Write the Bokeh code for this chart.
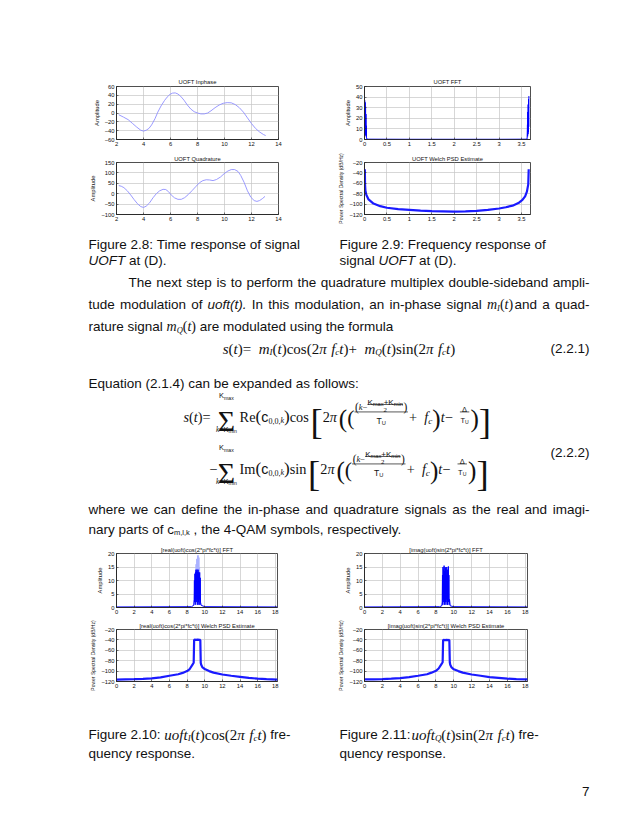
from bokeh.plotting import figure
from bokeh.layouts import column, row
from bokeh.models import Range1d, Label, Spacer, FixedTicker, ColumnDataSource
from bokeh.embed import file_html
from bokeh.resources import INLINE

SANS = "Liberation Sans"
SERIF = "Liberation Serif"
PLOT_FS = "5.8px"
FS = 13.5

# ------------------------------------------------------------------ data
time_ticks = [2, 4, 6, 8, 10, 12, 14]                      # x 10^-7 s
time_tick_labels = ["2", "4", "6", "8", "10", "12", "14"]
inphase_time = [2.17, 2.5, 2.86, 3.2, 3.5, 3.8, 4.0, 4.2, 4.4, 4.6, 4.85, 5.06, 5.3, 5.55,
                5.75, 5.95, 6.15, 6.35, 6.55, 6.75, 7.0, 7.25, 7.5, 7.75, 8.0, 8.25, 8.5,
                8.75, 9.0, 9.3, 9.6, 9.9, 10.2, 10.5, 10.8, 11.1, 11.4, 11.7, 12.0, 12.3,
                12.6, 12.9, 13.05]
inphase_amp = [-4, -9, -15, -24, -32, -39, -41, -39, -35, -27, -13, 2, 16, 28, 36, 42, 45,
               45.5, 43, 38, 29, 18, 9, 3, 0, -2, -2, 0, 5, 12, 18, 22, 23.5, 23, 19, 12, 2,
               -11, -24, -35, -43, -49, -51]
quad_time = [2.17, 2.35, 2.55, 2.8, 3.05, 3.3, 3.55, 3.8, 4.0, 4.2, 4.45, 4.7, 4.95, 5.2,
             5.45, 5.65, 5.85, 6.05, 6.3, 6.55, 6.8, 7.05, 7.3, 7.6, 7.9, 8.15, 8.4, 8.65,
             8.9, 9.15, 9.4, 9.7, 9.97, 10.25, 10.5, 10.75, 11.0, 11.2, 11.45, 11.7, 11.95,
             12.2, 12.4, 12.6, 12.8, 13.0]
quad_amp = [39, 36, 29, 14, -6, -28, -48, -62, -66, -60, -44, -20, 0, 14, 21, 20, 10, -6,
            -20, -27, -27, -19, -5, 15, 36, 53, 63, 67, 66, 63, 68, 80, 96, 109, 116, 116,
            107, 88, 55, 14, -17, -33, -37, -33, -24, -13]

uoft_freq_ticks = [0, 0.5, 1, 1.5, 2, 2.5, 3, 3.5]          # x 10^8 Hz
uoft_freq_labels = ["0", "0.5", "1", "1.5", "2", "2.5", "3", "3.5"]
uoft_fft_freq = [0.008, 0.012, 0.016, 0.020, 0.024, 0.028, 0.032, 0.036, 0.040, 0.044,
                 0.05, 0.08, 1.0, 2.0, 3.0, 3.6, 3.625, 3.632, 3.636, 3.64, 3.644, 3.648,
                 3.652, 3.656, 3.66, 3.664]
uoft_fft_amp = [37, 5, 35, 9, 31, 4, 24, 3, 13, 1.5, 0.6, 0.3, 0.2, 0.2, 0.2, 0.3, 0.6, 14,
                3, 26, 5, 33, 7, 38, 12, 41]
uoft_psd_freq = [0.008, 0.012, 0.02, 0.04, 0.09, 0.2, 0.35, 0.5, 0.75, 1.0, 1.25, 1.5, 1.75,
                 2.0, 2.25, 2.5, 2.75, 3.0, 3.15, 3.3, 3.43, 3.52, 3.58, 3.62, 3.65, 3.66]
uoft_psd_db = [-33, -62, -74, -82, -91, -99, -104, -107, -109.5, -111, -112.5, -113.5, -114,
               -114.5, -114, -113, -111, -108.5, -106, -103, -98, -92, -85, -76, -62, -33]

mod_freq_ticks = [0, 2, 4, 6, 8, 10, 12, 14, 16, 18]      # x 10^7 Hz
mod_freq_labels = ["0", "2", "4", "6", "8", "10", "12", "14", "16", "18"]
real_fft_freq = [0, 8.5, 8.75, 8.8, 8.83, 8.86, 8.89, 8.92, 8.95, 8.98, 9.01, 9.04, 9.07,
                 9.10, 9.13, 9.16, 9.19, 9.22, 9.25, 9.28, 9.31, 9.34, 9.37, 9.40, 9.43,
                 9.46, 9.49, 9.52, 9.6, 10, 18.25]
real_fft_amp = [0.2, 0.3, 0.8, 3, 10, 2, 12.5, 1, 13, 3, 14, 2, 13.5, 4, 14, 1, 13, 3, 14,
                2, 13, 1, 12.5, 3, 13, 1, 11, 2, 0.8, 0.3, 0.2]
real_fft_peak_freq = [8.98, 9.02, 9.06, 9.1, 9.14, 9.18, 9.22, 9.26, 9.3, 9.34, 9.38, 9.42]
real_fft_peak_amp = [2, 16, 3, 18, 4, 19.2, 5, 19.3, 4, 18.5, 3, 15]
imag_fft_freq = [0, 8.4, 8.65, 8.7, 8.73, 8.76, 8.79, 8.82, 8.85, 8.88, 8.91, 8.94, 8.97,
                 9.0, 9.03, 9.06, 9.09, 9.12, 9.15, 9.18, 9.21, 9.24, 9.27, 9.3, 9.33, 9.36,
                 9.39, 9.42, 9.45, 9.48, 9.52, 9.6, 10, 18.25]
imag_fft_amp = [0.2, 0.3, 0.6, 2, 12, 1, 15, 3, 14, 2, 15.5, 1, 13.5, 4, 15, 2, 14.5, 1, 12,
                3, 15, 2, 14, 1, 13, 4, 15.2, 2, 12, 1, 3, 0.6, 0.3, 0.2]
psd_freq = [0, 1, 2, 3, 4, 5, 6, 7, 7.5, 8, 8.3, 8.6, 8.75, 8.8, 8.85, 9.0, 9.2, 9.4, 9.5,
            9.55, 9.6, 9.75, 10, 10.5, 11, 12, 13, 14, 15, 16, 17, 18.25]
real_psd_db = [-116.5, -116, -115.6, -115, -114, -112, -109, -106, -103.5, -100, -96, -88,
               -84, -40, -39.5, -40, -39.5, -40, -40, -84, -88, -93, -96, -100, -103, -106.5,
               -109, -111, -113, -114.5, -115.5, -116.5]
imag_psd_db = [-116, -115.8, -115.3, -114.5, -113.5, -111.5, -109, -106, -103, -99.5, -95,
               -87, -83, -40.5, -40, -40.5, -40, -40.5, -40, -83, -88, -93, -96.5, -100,
               -103, -106.5, -109, -111.5, -113, -114.5, -115.5, -116]

# ------------------------------------------------------------------ plots
def subplot(width, height, bl, br, bt, bb, xr, yr, xticks, xlabels, yticks, title,
            ylabel, xlabel, xlabel_off, scale_exp, scale_off, title_standoff=1,
            ylabel_fs=PLOT_FS):
    p = figure(width=width, height=height, x_range=Range1d(*xr), y_range=Range1d(*yr),
               output_backend="svg", toolbar_location=None,
               min_border_left=bl, min_border_right=br, min_border_top=bt,
               min_border_bottom=bb)
    p.background_fill_color = "white"
    p.border_fill_color = "white"
    p.outline_line_color = "#222222"
    p.outline_line_width = 0.8
    p.title.text = title
    p.title.align = "center"
    p.title.text_font = SANS
    p.title.text_font_size = PLOT_FS
    p.title.text_font_style = "normal"
    p.title.text_color = "#111111"
    try:
        p.title.standoff = title_standoff
    except Exception:
        pass
    for ax, ticks in ((p.xaxis, xticks), (p.yaxis, yticks)):
        ax.ticker = FixedTicker(ticks=ticks)
        ax.major_label_text_font = SANS
        ax.major_label_text_font_size = PLOT_FS
        ax.major_label_text_color = "#111111"
        ax.major_label_standoff = 2
        ax.major_tick_in = 2
        ax.major_tick_out = 0
        ax.minor_tick_in = 0
        ax.minor_tick_out = 0
        ax.axis_line_color = "#222222"
        ax.axis_line_width = 0.8
        ax.major_tick_line_color = "#222222"
        ax.major_tick_line_width = 0.6
    p.xaxis.major_label_overrides = {t: s for t, s in zip(xticks, xlabels)}
    p.yaxis.axis_label = ylabel
    p.yaxis.axis_label_text_font = SANS
    p.yaxis.axis_label_text_font_size = ylabel_fs
    p.yaxis.axis_label_text_font_style = "normal"
    p.yaxis.axis_label_text_color = "#111111"
    p.yaxis.axis_label_standoff = 2
    p.xgrid.grid_line_color = "#c6c6c6"
    p.ygrid.grid_line_color = "#c6c6c6"
    p.xgrid.grid_line_width = 0.7
    p.ygrid.grid_line_width = 0.7
    xmid = (xr[0] + xr[1]) / 2.0
    p.add_layout(Label(x=xmid, y=yr[0], text=xlabel, text_align="center",
                       text_baseline="middle", y_offset=-xlabel_off, text_font=SANS,
                       text_font_size=PLOT_FS, text_color="#111111"))
    p.add_layout(Label(x=xr[1], y=yr[0], text="x 10", text_align="right",
                       text_baseline="middle", x_offset=-4.5, y_offset=-scale_off,
                       text_font=SANS, text_font_size=PLOT_FS, text_color="#111111"))
    p.add_layout(Label(x=xr[1], y=yr[0], text=scale_exp, text_align="right",
                       text_baseline="middle", x_offset=0, y_offset=-scale_off + 2.5,
                       text_font=SANS, text_font_size="4.2px", text_color="#111111"))
    return p

LIGHT = "#8f8fff"
BLUE = "#0000ff"
PSD_BLUE = "#1a1aff"
amp_ticks_a = [-60, -40, -20, 0, 20, 40, 60]
amp_ticks_b = [-100, -50, 0, 50, 100, 150]
amp_ticks_c = [0, 10, 20, 30, 40, 50]
amp_ticks_e = [0, 5, 10, 15, 20]
psd_ticks = [-120, -100, -80, -60, -40, -20]
PSD_LABEL = "Power Spectral Density (dB/Hz)"

fig_a = subplot(319, 82, 116, 41, 16, 13, (2, 14), (-60, 60), time_ticks, time_tick_labels,
                amp_ticks_a, "UOFT Inphase", "Amplitude", "Time (sec)", 9.5, "-7", 10,
                title_standoff=4)
fig_a.line(inphase_time, inphase_amp, line_color=LIGHT, line_width=0.9)

fig_b = subplot(319, 80, 116, 41, 9, 18, (2, 14), (-100, 150), time_ticks, time_tick_labels,
                amp_ticks_b, "UOFT Quadrature", "Amplitude", "Time (sec)", 10, "-7", 13,
                title_standoff=2)
fig_b.line(quad_time, quad_amp, line_color=LIGHT, line_width=0.9)

fig_c = subplot(317, 82, 45, 106, 16, 13, (0, 3.7), (0, 50), uoft_freq_ticks,
                uoft_freq_labels, amp_ticks_c, "UOFT FFT", "Amplitude", "Frequency (Hz)",
                9.5, "8", 10, title_standoff=4)
fig_c.line(uoft_fft_freq, uoft_fft_amp, line_color=BLUE, line_width=1.0)

fig_d = subplot(317, 80, 45, 106, 7, 18, (0, 3.7), (-120, -20), uoft_freq_ticks,
                uoft_freq_labels, psd_ticks, "UOFT Welch PSD Estimate", PSD_LABEL,
                "Frequency (Hz)", 10, "8", 13, title_standoff=1, ylabel_fs="5px")
fig_d.line(uoft_psd_freq, uoft_psd_db, line_color=PSD_BLUE, line_width=2.2)

fig_e = subplot(319, 76, 116, 42, 9, 13, (0, 18.25), (0, 20), mod_freq_ticks,
                mod_freq_labels, amp_ticks_e, "[real(uoft)cos(2*pi*fc*t)] FFT", "Amplitude",
                "Frequency (Hz)", 8.5, "7", 10, title_standoff=1)
fig_e.line(real_fft_peak_freq, real_fft_peak_amp, line_color="#aab2ff", line_width=1.0)
fig_e.line(real_fft_freq, real_fft_amp, line_color=BLUE, line_width=1.0)

fig_f = subplot(319, 80, 116, 42, 7, 19, (0, 18.25), (-120, -20), mod_freq_ticks,
                mod_freq_labels, psd_ticks, "[real(uoft)cos(2*pi*fc*t)] Welch PSD Estimate",
                PSD_LABEL, "Frequency (Hz)", 9.7, "7", 14, title_standoff=1,
                ylabel_fs="5px")
fig_f.line(psd_freq, real_psd_db, line_color=PSD_BLUE, line_width=2.2)

fig_g = subplot(317, 76, 45, 109, 9, 13, (0, 18.25), (0, 20), mod_freq_ticks,
                mod_freq_labels, amp_ticks_e, "[imag(uoft)sin(2*pi*fc*t)] FFT", "Amplitude",
                "Frequency (Hz)", 8.5, "7", 10, title_standoff=1)
fig_g.line(imag_fft_freq, imag_fft_amp, line_color=BLUE, line_width=1.0)

fig_h = subplot(317, 80, 45, 109, 7, 19, (0, 18.25), (-120, -20), mod_freq_ticks,
                mod_freq_labels, psd_ticks, "[imag(uoft)sin(2*pi*fc*t)] Welch PSD Estimate",
                PSD_LABEL, "Frequency (Hz)", 9.7, "7", 14, title_standoff=1,
                ylabel_fs="5px")
fig_h.line(psd_freq, imag_psd_db, line_color=PSD_BLUE, line_width=2.2)

# ------------------------------------------------------------------ text metrics
_chars = (" !\"#$%&'()*+,-./0123456789:;<=>?@ABCDEFGHIJKLMNOPQRSTUVWXYZ[\\]^_`"
          "abcdefghijklmnopqrstuvwxyz{|}~")
_aw = ([278, 278, 355, 556, 556, 889, 667, 191, 333, 333, 389, 584, 278, 333, 278, 278]
       + [556] * 10 + [278, 278, 584, 584, 584, 556, 1015]
       + [667, 667, 722, 722, 667, 611, 778, 722, 278, 500, 667, 556, 833, 722, 778, 667,
          778, 722, 667, 611, 722, 667, 944, 667, 667, 611]
       + [278, 278, 278, 469, 556, 333]
       + [556, 556, 500, 556, 556, 278, 556, 556, 222, 222, 500, 222, 833, 556, 556, 556,
          556, 333, 500, 278, 556, 500, 722, 500, 500, 500]
       + [334, 260, 334, 584])
ARIAL = dict(zip(_chars, _aw))
ARIAL.update({"Δ": 668, "−": 584})
TIMES_R = dict(zip("abcdefghijklmnopqrstuvwxyz",
                   [444, 500, 444, 500, 444, 333, 500, 500, 278, 278, 500, 278, 778, 500,
                    500, 500, 500, 333, 389, 278, 500, 500, 722, 500, 500, 444]))
TIMES_R.update(dict(zip("ABCDEFGHIJKLMNOPQRSTUVWXYZ",
                        [722, 667, 667, 722, 611, 556, 722, 722, 333, 389, 722, 611, 889,
                         722, 722, 556, 722, 667, 556, 611, 722, 722, 944, 722, 722, 611])))
TIMES_R.update({" ": 250, "(": 333, ")": 333, "[": 333, "]": 333, "+": 564, "=": 564,
                "−": 564, ",": 250, ".": 250, "π": 549, "Σ": 592})
TIMES_R.update({d: 500 for d in "0123456789"})
TIMES_I = dict(zip("abcdefghijklmnopqrstuvwxyz",
                   [500, 500, 444, 500, 444, 278, 500, 500, 278, 278, 444, 278, 722, 500,
                    500, 500, 500, 389, 389, 278, 500, 444, 667, 444, 444, 389]))
TIMES_I.update({"I": 333, "Q": 722, "K": 667, "T": 556, "U": 722, "π": 549, " ": 250,
                "(": 333, ")": 333})
TIMES_I.update({d: 500 for d in "0123456789"})


def tw(text, fam, style, size):
    tab = ARIAL if fam == "sans" else (TIMES_I if style == "italic" else TIMES_R)
    return sum(tab.get(c, 556 if fam == "sans" else 500) for c in text) * size / 1000.0


def rw(runs):
    return sum(tw(t, f, s, z) for (t, f, s, z, dy) in runs)


def S(t, z=FS, dy=0):
    return (t, "sans", "normal", z, dy)


def SI(t, z=FS, dy=0):
    return (t, "sans", "italic", z, dy)


def MR(t, z=15, dy=0):
    return (t, "serif", "normal", z, dy)


def MI(t, z=15, dy=0):
    return (t, "serif", "italic", z, dy)


class Writer:
    def __init__(self, ox, oy):
        self.ox, self.oy = ox, oy
        self.t = {k: [] for k in ("x", "y", "text", "font", "size", "style", "align")}
        self.s = {k: [] for k in ("x0", "y0", "x1", "y1")}

    def put(self, x, y, text, fam="sans", style="normal", size=FS, align="left"):
        self.t["x"].append(x - self.ox)
        self.t["y"].append(y - self.oy)
        self.t["text"].append(text)
        self.t["font"].append(SANS if fam == "sans" else SERIF)
        self.t["size"].append("%.2fpx" % size)
        self.t["style"].append(style)
        self.t["align"].append(align)

    def runs(self, x, y, runs):
        for (t, fam, style, size, dy) in runs:
            self.put(x, y + dy, t, fam, style, size)
            x += tw(t, fam, style, size)
        return x

    def bar(self, x0, x1, y):
        self.s["x0"].append(x0 - self.ox)
        self.s["x1"].append(x1 - self.ox)
        self.s["y0"].append(y - self.oy)
        self.s["y1"].append(y - self.oy)

    def draw(self, p):
        p.text(x="x", y="y", text="text", source=ColumnDataSource(self.t), text_font="font",
               text_font_size="size", text_font_style="style", text_align="align",
               text_baseline="alphabetic", text_color="#111111")
        if self.s["x0"]:
            p.segment(x0="x0", y0="y0", x1="x1", y1="y1", source=ColumnDataSource(self.s),
                      line_color="#111111", line_width=0.7)


def words(s, style="normal"):
    return [[(w, "sans", style, FS, 0)] for w in s.split()]


def layout(W, x0, y, wl, x1=None):
    widths = [rw(w) for w in wl]
    gap = tw(" ", "sans", "normal", FS)
    if x1 is not None and len(wl) > 1:
        gap = (x1 - x0 - sum(widths)) / (len(wl) - 1)
    x = x0
    for w, wd in zip(wl, widths):
        W.runs(x, y, w)
        x += wd + gap


def canvas(w, h):
    p = figure(width=w, height=h, x_range=Range1d(0, w), y_range=Range1d(h, 0),
               output_backend="svg", toolbar_location=None, x_axis_location=None,
               y_axis_location=None, min_border=0, title=None)
    p.outline_line_color = None
    p.background_fill_color = "white"
    p.border_fill_color = "white"
    p.xgrid.visible = False
    p.ygrid.visible = False
    p.grid.grid_line_color = None
    return p


def eq222(W, C, X0, k, lead_runs, lead_dx, word, trig):
    B = C + 4 * k
    W.runs(X0 + lead_dx * k, B, lead_runs)
    sx = X0 + 37.5 * k
    W.put(sx, C + 7 * k, "Σ", "serif", "normal", 26 * k, "center")
    up = [S("K", 6.5 * k), S("max", 4.5 * k, 1.5 * k)]
    W.runs(sx - rw(up) / 2, C - 14.5 * k, up)
    lo = [MI("k", 6.5 * k), MR("=", 6.5 * k), S("K", 6.5 * k), S("min", 4.5 * k, 1.5 * k)]
    W.runs(sx - rw(lo) / 2, C + 15 * k, lo)
    x = W.runs(X0 + 49 * k, B, [MR(word, 12.5 * k)])
    x = W.runs(x, C + 3.5 * k, [MR("(", 15 * k)])
    x = W.runs(x, B, [S("c", 12.5 * k), MR("0,0,", 7 * k, 3 * k), MI("k", 7 * k, 3 * k)])
    x = W.runs(x, C + 3.5 * k, [MR(")", 15 * k)])
    x = W.runs(x, B, [MR(trig, 12.5 * k)])
    x = W.runs(x + 1.5 * k, C + 8 * k, [MR("[", 32 * k)])
    x = W.runs(x, B, [MR("2", 12.5 * k), MI("π", 12.5 * k)])
    x = W.runs(x + k, C + 5.5 * k, [MR("(", 22 * k)])
    x = W.runs(x, C + 4.5 * k, [MR("(", 19 * k)])
    f0 = x
    n = W.runs(f0 + 0.5 * k, C - 5 * k,
               [MR("(", 10 * k), MI("k", 7.5 * k), MR("−", 7.5 * k)])
    inner = [S("K", 7 * k), S("max", 5 * k, 1.2 * k), S("+", 7 * k), S("K", 7 * k),
             S("min", 5 * k, 1.2 * k)]
    iw = rw(inner)
    W.runs(n, C - 9 * k, inner)
    W.bar(n, n + iw, C - 7 * k)
    two = [MR("2", 6 * k)]
    W.runs(n + iw / 2 - rw(two) / 2, C - 2 * k, two)
    n = W.runs(n + iw + 0.5 * k, C - 5 * k, [MR(")", 10 * k)])
    f1 = n + 0.5 * k
    W.bar(f0, f1, C - 0.5 * k)
    den = [S("T", 7.5 * k), S("U", 5 * k, 2 * k)]
    W.runs((f0 + f1) / 2 - rw(den) / 2, C + 7.5 * k, den)
    x = W.runs(f1 + k, B, [MR(" + ", 12.5 * k), MI("f", 12.5 * k), MI("c", 8 * k, 3 * k)])
    x = W.runs(x, C + 5.5 * k, [MR(")", 22 * k)])
    x = W.runs(x, B, [MI("t", 12.5 * k), MR(" − ", 12.5 * k)])
    d0 = x
    dn = [S("Δ", 6.5 * k)]
    dd = [S("T", 6.5 * k), S("U", 4.5 * k, 1.5 * k)]
    dw = max(rw(dn), rw(dd)) + k
    W.runs(d0 + dw / 2 - rw(dn) / 2, C - 2.5 * k, dn)
    W.bar(d0, d0 + dw, C - 0.5 * k)
    W.runs(d0 + dw / 2 - rw(dd) / 2, C + 7 * k, dd)
    x = W.runs(d0 + dw + k, C + 5.5 * k, [MR(")", 22 * k)])
    W.runs(x, C + 8 * k, [MR("]", 32 * k)])


LEFT, INDENT, RIGHT, COL2 = 88, 128, 589, 339

# ------------------------------------------------------------------ middle text block
MID_TOP = 232
mid = canvas(636, 312)
W = Writer(0, MID_TOP)
layout(W, LEFT, 244, words("Figure 2.8: Time response of signal"))
layout(W, LEFT, 260, [[SI("UOFT")]] + words("at (D)."))
layout(W, COL2, 244, words("Figure 2.9: Frequency response of"))
layout(W, COL2, 260, words("signal") + [[SI("UOFT")]] + words("at (D)."))

layout(W, INDENT, 282,
       words("The next step is to perform the quadrature multiplex double-sideband ampli-"),
       RIGHT)
m_i = [MI("m", 14), MI("I", 8.5, 3), MR("(", 14), MI("t", 14), MR(")", 14), MR(" ", 6),
       S("and")]
layout(W, LEFT, 304,
       words("tude modulation of") + [[SI("uoft(t).")]]
       + words("In this modulation, an in-phase signal") + [m_i] + words("a quad-"),
       RIGHT)
m_q = [MI("m", 14), MI("Q", 8.5, 3), MR("(", 14), MI("t", 14), MR(")", 14)]
layout(W, LEFT, 326, words("rature signal") + [m_q] + words("are modulated using the formula"))

eq1 = [MI("s"), MR("("), MI("t"), MR(")"), MR(" = "), MI("m"), MI("I", 9, 3.5), MR("("),
       MI("t"), MR(")cos(2"), MI("π"), MR(" "), MI("f"), MI("c", 9, 3.5), MI("t"),
       MR(")"), MR(" + "), MI("m"), MI("Q", 9, 3.5), MR("("), MI("t"), MR(")sin(2"),
       MI("π"), MR(" "), MI("f"), MI("c", 9, 3.5), MI("t"), MR(")")]
W.runs(338.5 - rw(eq1) / 2, 348, eq1)
W.put(RIGHT, 348, "(2.2.1)", "sans", "normal", FS, "right")

layout(W, LEFT, 383, words("Equation (2.1.4) can be expanded as follows:"))
EQK = 1.145
eq222(W, 412, 183, EQK, [MI("s", 12.5 * EQK), MR("(", 12.5 * EQK), MI("t", 12.5 * EQK),
                         MR(")", 12.5 * EQK), MR(" = ", 12.5 * EQK)], 0, "Re", "cos")
eq222(W, 464, 183, EQK, [MR("−", 12.5 * EQK)], 22.5, "Im", "sin")
W.put(RIGHT, 452, "(2.2.2)", "sans", "normal", FS, "right")

layout(W, LEFT, 509,
       words("where we can define the in-phase and quadrature signals as the real and imagi-"),
       RIGHT)
layout(W, LEFT, 529, words("nary parts of") + [[S("c"), S("m,l,k", 7.5, 3)]]
       + words(", the 4-QAM symbols, respectively."))
W.draw(mid)

# ------------------------------------------------------------------ bottom text block
BOT_TOP = 700
bottom = canvas(636, 124)
Wb = Writer(0, BOT_TOP)
math_i = [MI("uoft"), MI("I", 9, 3), MR("("), MI("t"), MR(")cos(2"), MI("π"), MR(" "),
          MI("f"), MI("c", 9, 3), MI("t"), MR(")")]
math_q = [MI("uoft"), MI("Q", 9, 3), MR("("), MI("t"), MR(")sin(2"), MI("π"), MR(" "),
          MI("f"), MI("c", 9, 3), MI("t"), MR(")")]
layout(Wb, LEFT, 734, words("Figure 2.10:") + [math_i] + words("fre-"))
layout(Wb, LEFT, 753, words("quency response."))
layout(Wb, COL2, 734, words("Figure") + [[S("2.11:")] + math_q] + words("fre-"))
layout(Wb, COL2, 753, words("quency response."))
Wb.put(RIGHT, 791, "7", "sans", "normal", FS, "right")
Wb.draw(bottom)

page = column(
    Spacer(width=636, height=70),
    row(fig_a, fig_c),
    row(fig_b, fig_d),
    mid,
    row(fig_e, fig_g),
    row(fig_f, fig_h),
    bottom,
)

open("out.html", "w").write(file_html(page, INLINE))
